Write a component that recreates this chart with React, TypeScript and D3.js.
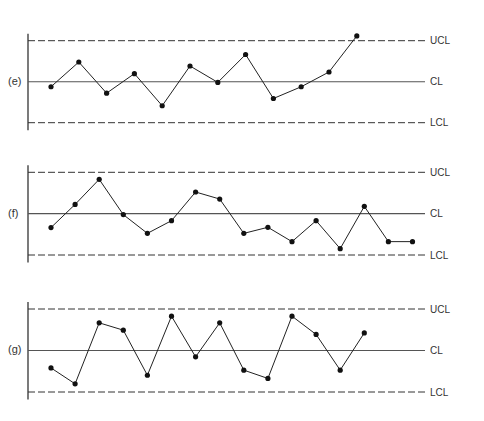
import { useEffect, useRef } from "react";
import * as d3 from "d3";

// values in sigma units relative to the centre line (UCL = +3, LCL = -3)
const panelLabels = ["(e)", "(f)", "(g)"];
const seriesE = [-0.37, 1.44, -0.84, 0.59, -1.76, 1.15, -0.05, 1.99, -1.23, -0.37, 0.71, 3.35];
const seriesF = [-1.01, 0.67, 2.49, -0.07, -1.43, -0.51, 1.57, 1.06, -1.43, -0.99, -2.03, -0.51, -2.54, 0.53, -2.03, -2.03];
const seriesG = [-1.26, -2.41, 2.0, 1.47, -1.79, 2.48, -0.46, 2.0, -1.42, -2.02, 2.48, 1.16, -1.42, 1.27];
const limitLabels = ["UCL", "CL", "LCL"];
const limitValues = [3, 0, -3];

const W = 484;
const H = 421;

export default function App() {
  const svgRef = useRef<SVGSVGElement>(null);

  useEffect(() => {
    if (!svgRef.current) return;
    const svg = d3.select(svgRef.current);
    svg.selectAll("*").remove();

    const panels = [
      { label: panelLabels[0], data: seriesE, ucl: 40.7, lcl: 122.7, step: 27.8 },
      { label: panelLabels[1], data: seriesF, ucl: 172.3, lcl: 255, step: 24.1 },
      { label: panelLabels[2], data: seriesG, ucl: 309, lcl: 392, step: 24.1 },
    ];

    const axisX = 28;
    const lineEnd = 425;
    const firstX = 51;
    const font = "Liberation Sans, Arial, sans-serif";

    panels.forEach((p) => {
      const g = svg.append("g");
      const y = d3.scaleLinear().domain([-3, 3]).range([p.lcl, p.ucl]);
      const x = d3
        .scaleLinear()
        .domain([0, p.data.length - 1])
        .range([firstX, firstX + p.step * (p.data.length - 1)]);

      // left axis
      g.append("line")
        .attr("x1", axisX)
        .attr("x2", axisX)
        .attr("y1", y(3) - 7)
        .attr("y2", y(-3) + 7.5)
        .attr("stroke", "#222")
        .attr("stroke-width", 1.2);

      // control limits
      limitValues.forEach((v, i) => {
        g.append("line")
          .attr("x1", axisX)
          .attr("x2", lineEnd)
          .attr("y1", y(v))
          .attr("y2", y(v))
          .attr("stroke", v === 0 ? "#555" : "#333")
          .attr("stroke-width", v === 0 ? 1.1 : 1)
          .attr("stroke-dasharray", v === 0 ? null : "7,3");
        g.append("text")
          .attr("x", lineEnd + 5)
          .attr("y", y(v))
          .attr("dy", "0.35em")
          .attr("font-family", font)
          .attr("font-size", "10px")
          .attr("fill", "#333")
          .text(limitLabels[i]);
      });

      g.append("text")
        .attr("x", 8)
        .attr("y", y(0) - 1)
        .attr("dy", "0.35em")
        .attr("font-family", font)
        .attr("font-size", "11px")
        .attr("fill", "#333")
        .text(p.label);

      const line = d3
        .line<number>()
        .x((_, i) => x(i))
        .y((d) => y(d));

      g.append("path")
        .datum(p.data)
        .attr("d", line)
        .attr("fill", "none")
        .attr("stroke", "#222")
        .attr("stroke-width", 1);

      g.selectAll("circle")
        .data(p.data)
        .enter()
        .append("circle")
        .attr("cx", (_, i) => x(i))
        .attr("cy", (d) => y(d))
        .attr("r", 2.6)
        .attr("fill", "#111");
    });
  }, []);

  return (
    <div style={{ position: "absolute", left: 0, top: 0, background: "#fff" }}>
      <svg ref={svgRef} width={W} height={H} />
    </div>
  );
}
